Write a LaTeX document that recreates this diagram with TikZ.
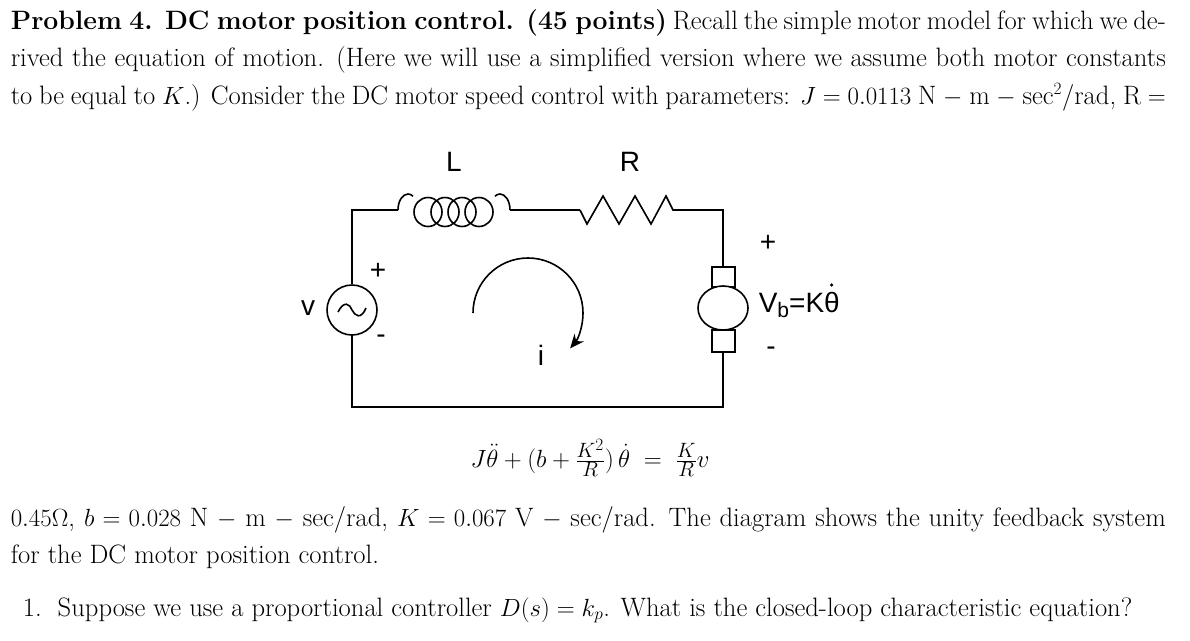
\documentclass[tikz,border=0pt]{standalone}
\usepackage{amsmath}
\usepackage{fontspec}
\usetikzlibrary{arrows.meta}
\newfontfamily\lab{Liberation Sans}
\begin{document}
\begin{tikzpicture}[x=1pt,y=-1pt,line width=1.6pt,
  txt/.style={anchor=base west,inner sep=0,font=\fontsize{26.6}{30}\selectfont},
  lbl/.style={inner sep=0,font=\lab\fontsize{28}{30}\selectfont}]
\useasboundingbox (0,0) rectangle (1190,640);
% text
\node[txt] (l1) at (10,29) {\makebox[1155pt][s]{\textbf{Problem 4. DC motor position control. (45 points)} Recall the simple motor model for which we de-}};
\node[txt] (l2) at (10,66) {\makebox[1155pt][s]{rived the equation of motion. (Here we will use a simplified version where we assume both motor constants}};
\node[txt] (l3) at (10,104) {\makebox[1155pt][s]{to be equal to $K$.) Consider the DC motor speed control with parameters: $J=0.0113$ N $-$ m $-$ sec$^2$/rad, R $=$}};
\node[txt] (l4) at (10,526) {\makebox[1155pt][s]{$0.45\Omega$, $b=0.028$ N $-$ m $-$ sec/rad, $K=0.067$ V $-$ sec/rad. The diagram shows the unity feedback system}};
\node[txt] (l5) at (10,563) {for the DC motor position control.};
\node[txt] (l6) at (22,616) {1.\ \ Suppose we use a proportional controller $D(s)=k_p$. What is the closed-loop characteristic equation?};
% circuit
\coordinate (tl) at (352,210); \coordinate (tr) at (723,210);
\coordinate (bl) at (352,407); \coordinate (br) at (723,407);
\node[circle,draw,minimum size=50pt,inner sep=0] (src) at (352,310) {};
\draw (src.north) -- (tl) -- (398,210);
\draw (398,210) arc[start angle=180,end angle=60,x radius=10pt,y radius=16pt];
\foreach \c in {428,445,462,479} {\draw (\c,212) ellipse[x radius=14pt,y radius=14.5pt];}
\draw (510,210) arc[start angle=0,end angle=120,x radius=10pt,y radius=16pt];
\draw (510,210) -- (580,210);
\draw (580,210) -- (587,224) -- (603,196) -- (619,224) -- (635,196) -- (651,224) -- (666,196) -- (673,210) -- (tr) -- (723,267);
\draw (352,335) -- (bl) -- (br) -- (723,352);
\draw (712,267) rectangle (735,287);
\draw (712,330) rectangle (735,352);
\draw[fill=white] (723,308) ellipse[x radius=25pt,y radius=22pt];
\draw (338,312) .. controls (344,300) and (350,304) .. (352,310) .. controls (355,316) and (361,320) .. (366,308);
\draw[-{Stealth[length=14pt,width=12pt]}] (473,313) arc[start angle=180,end angle=-40,radius=55pt];
\node[lbl] (Ll) at (454,162) {L};
\node[lbl] (Rl) at (630,162) {R};
\node[lbl] (p1) at (378,271) {+};
\node[lbl] (m1) at (381,339) {-};
\node[lbl] (vl) at (308,308) {v};
\node[lbl] (il) at (541,355) {i};
\node[lbl] (p2) at (768,243) {+};
\node[lbl] (m2) at (771,351) {-};
\node[lbl,anchor=west] (vb) at (758,305) {V\raisebox{-5pt}{\fontsize{21}{22}\selectfont b}=Kθ};
\fill (vb.east) ++(-9,-20) circle[radius=1.8pt];
\node[inner sep=0,font=\fontsize{32}{34}\selectfont] (eq) at (590,458) {$J\ddot{\theta}+(b+\tfrac{K^2}{R})\,\dot{\theta}\;=\;\tfrac{K}{R}v$};
\end{tikzpicture}
\end{document}
